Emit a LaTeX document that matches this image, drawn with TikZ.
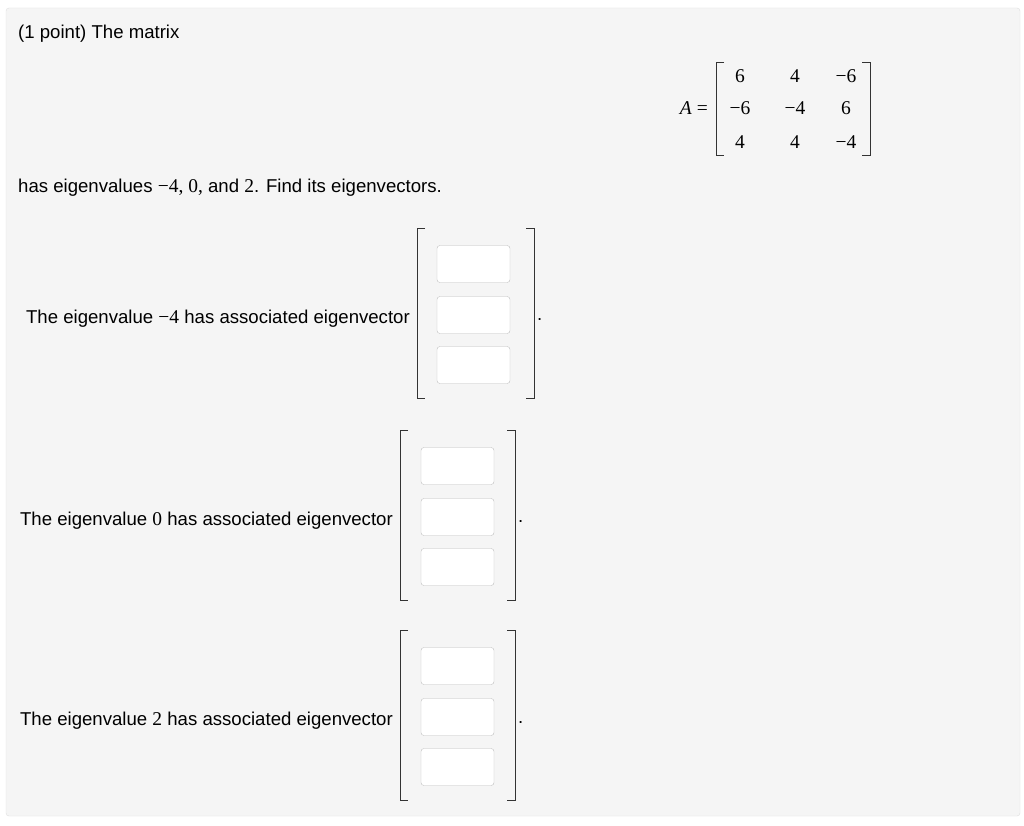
\documentclass[tikz,border=0pt]{standalone}
\usepackage{fontspec}
\setmainfont{Liberation Sans}
\newfontfamily\mathf{Liberation Serif}
\begin{document}
\begin{tikzpicture}[x=1pt,y=-1pt,
  txt/.style={font=\fontsize{18.6}{21}\selectfont,inner sep=0pt,anchor=west},
  mth/.style={font=\mathf\fontsize{19.5}{22}\selectfont,inner sep=0pt},
  ibox/.style={draw=black!25,fill=white,rounded corners=3pt,minimum width=73pt,minimum height=37pt,inner sep=0pt},
  brk/.style={draw=black!80,line width=0.8pt}]
\useasboundingbox (0,0) rectangle (1024,826);
\fill[white] (0,0) rectangle (1024,826);
\draw[black!12,fill=black!4,rounded corners=3pt] (6,8) rectangle (1020,816);
\node[txt] (t1) at (18,34) {(1 point) The matrix};
% matrix
\node[mth,anchor=east] (A) at (708,108) {\textit{A} =};
\node[mth] (m11) at (740,76) {6};
\node[mth] (m12) at (795,76) {4};
\node[mth] (m13) at (846,76) {−6};
\node[mth] (m21) at (740,108) {−6};
\node[mth] (m22) at (795,108) {−4};
\node[mth] (m23) at (846,108) {6};
\node[mth] (m31) at (740,142) {4};
\node[mth] (m32) at (795,142) {4};
\node[mth] (m33) at (846,142) {−4};
\draw[brk] (724,62) -- (716,62) -- (716,155) -- (724,155);
\draw[brk] (862,62) -- (870,62) -- (870,155) -- (862,155);
\node[txt] (t2) at (18,188) {has eigenvalues {\mathf\fontsize{19.5}{22}\selectfont −4, 0,} and {\mathf\fontsize{19.5}{22}\selectfont 2}. Find its eigenvectors.};
% groups
\foreach \n/\val/\top/\lx/\rx/\bx in {a/−4/228/417/534/473.5, b/0/430/400/515/457.5, c/2/630/400/515/457.5}{
  \draw[brk] (\lx+8,\top) -- (\lx,\top) -- (\lx,\top+170) -- (\lx+8,\top+170);
  \draw[brk] (\rx-8,\top) -- (\rx,\top) -- (\rx,\top+170) -- (\rx-8,\top+170);
  \node[ibox] (\n1) at (\bx,\top+36) {};
  \node[ibox] (\n2) at (\bx,\top+87) {};
  \node[ibox] (\n3) at (\bx,\top+137) {};
  \node[txt,anchor=east] (\n L) at (\lx-7,\top+91) {The eigenvalue {\mathf\fontsize{19.5}{22}\selectfont \val} has associated eigenvector};
  \node[txt] (\n P) at (\rx+3,\top+92) {.};
}
\end{tikzpicture}
\end{document}
